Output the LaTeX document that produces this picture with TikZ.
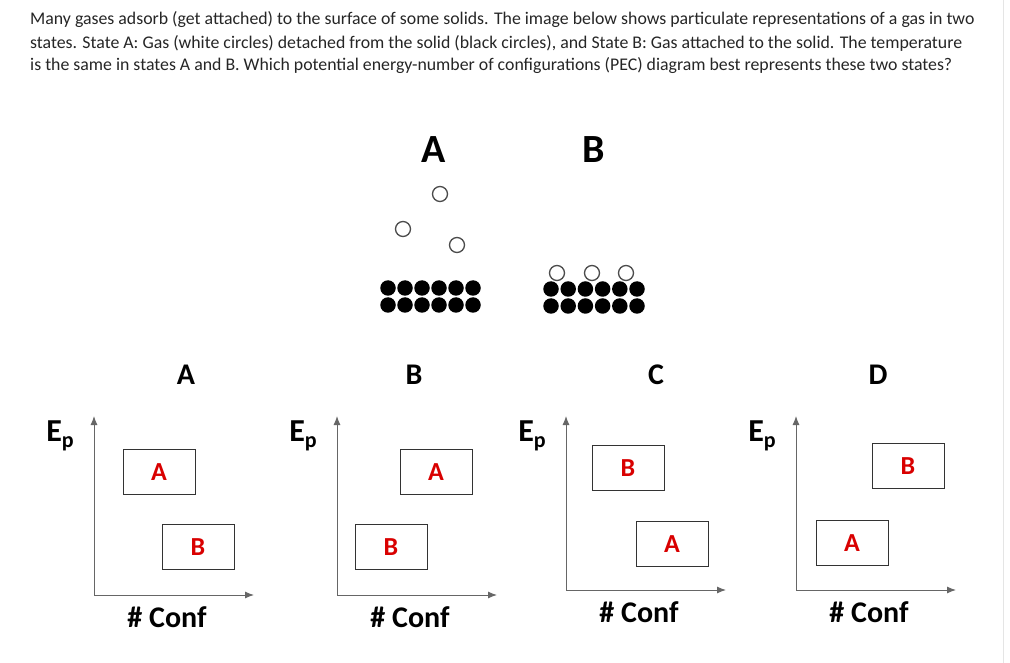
\documentclass[tikz,border=0pt]{standalone}
\usepackage{fontspec}
\usetikzlibrary{arrows.meta}
\setmainfont{Carlito}
\begin{document}
\begin{tikzpicture}[x=1pt,y=-1pt,
 txt/.style={anchor=west,inner sep=0,font=\fontsize{17.8}{20}\selectfont,text=black!85},
 ttl/.style={font=\fontsize{30}{32}\selectfont\bfseries},
 ep/.style={font=\fontsize{32}{34}\selectfont\bfseries},
 conf/.style={font=\fontsize{30}{32}\selectfont\bfseries},
 bx/.style={draw=black!80,line width=1pt,minimum width=72pt,minimum height=45pt,inner sep=0,text=red!85!black,font=\fontsize{26}{28}\selectfont\bfseries},
 ax/.style={draw=black!60,line width=1pt,-{Latex[length=9pt,width=7pt]}},
 solid/.style={circle,fill=black,minimum size=15.5pt,inner sep=0},
 gas/.style={circle,draw=black!70,line width=1.3pt,fill=white,minimum size=15pt,inner sep=0}]
\useasboundingbox (0,0) rectangle (1010,663);
\fill[white] (0,0) rectangle (1010,663);
\draw[black!10] (1003,0) -- (1003,663);
\node[txt] (l1) at (30,20) {Many gases adsorb (get attached) to the surface of some solids. The image below shows particulate representations of a gas in two};
\node[txt] (l2) at (30,43) {states. State A: Gas (white circles) detached from the solid (black circles), and State B: Gas attached to the solid. The temperature};
\node[txt] (l3) at (30,66) {is the same in states A and B. Which potential energy-number of configurations (PEC) diagram best represents these two states?};
% molecules
\node[font=\fontsize{40}{42}\selectfont\bfseries] (sa) at (434,150) {A};
\node[font=\fontsize{40}{42}\selectfont\bfseries] (sb) at (594,150) {B};
\foreach \i in {0,...,5}{
 \node[solid] (a1\i) at (388+17*\i,288) {};
 \node[solid] (a2\i) at (388+17*\i,305) {};
 \node[solid] (b1\i) at (551+17.2*\i,289) {};
 \node[solid] (b2\i) at (551+17.2*\i,306) {};}
\node[gas] (g1) at (440,194) {};
\node[gas] (g2) at (403,229) {};
\node[gas] (g3) at (457,245) {};
\node[gas] (h1) at (557,273) {};
\node[gas] (h2) at (592,273) {};
\node[gas] (h3) at (626,273) {};
% panels
\newcommand{\panel}[9]{%
 \node[ttl] (t#1) at (#2) {#1};
 \coordinate (o#1) at (#3,#4);
 \coordinate (y#1) at (#3,416);
 \coordinate (x#1) at (#3+160,#4);
 \draw[ax] (o#1) -- (y#1);
 \draw[ax] (o#1) -- (x#1);
 \node[ep] (e#1) at (#3-34,436) {E\raisebox{-0.35ex}{\fontsize{22}{24}\selectfont p}};
 \node[conf] (c#1) at (#3+73,#4+22) {\# Conf};
 \node[bx] (p#1) at (#5) {#6};
 \node[bx] (q#1) at (#7) {#8};}
\panel{A}{186,375}{94}{595}{159,472}{A}{198,547}{B}{}
\panel{B}{414,375}{337}{595}{436,472}{A}{391,547}{B}{}
\panel{C}{656,375}{566}{590}{628,468}{B}{672,544}{A}{}
\panel{D}{878,375}{796}{590}{908,466}{B}{852,543}{A}{}
\end{tikzpicture}
\end{document}
